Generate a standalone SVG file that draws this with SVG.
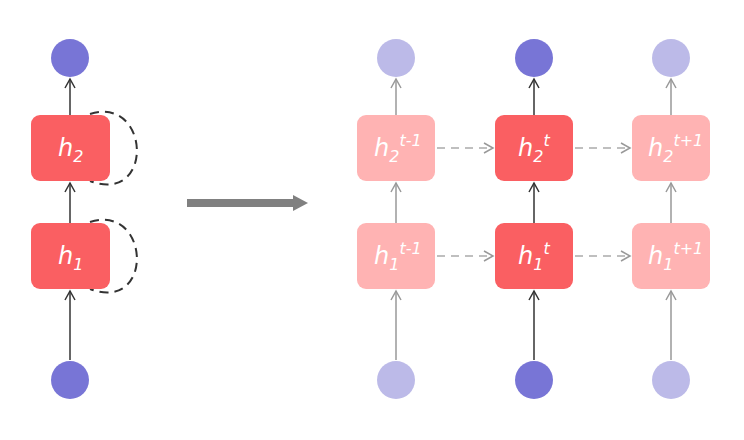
<svg xmlns="http://www.w3.org/2000/svg" width="744" height="440" viewBox="0 0 744 440">
<defs>
<style>
.dk{fill:#fa5f62}.lt{fill:#ffb3b3}
.cd{fill:#7875d6}.cl{fill:#bcbae8}
.t{font-family:"DejaVu Sans",sans-serif;font-style:italic;fill:#fff;font-size:24px}
.s{font-size:16px}
.ln{stroke:#333;stroke-width:1.5;fill:none}
.lg{stroke:#999;stroke-width:1.5;fill:none}
.dl{stroke:#333;stroke-width:2;fill:none;stroke-dasharray:9 6}
.dg{stroke:#aaa;stroke-width:1.5;fill:none;stroke-dasharray:8 6}
</style>
<marker id="a" markerWidth="12" markerHeight="12" refX="10" refY="6" orient="auto" markerUnits="userSpaceOnUse"><path d="M1,1 L10,6 L1,11" fill="none" stroke="#333" stroke-width="1.5"/></marker>
<marker id="ag" markerWidth="12" markerHeight="12" refX="10" refY="6" orient="auto" markerUnits="userSpaceOnUse"><path d="M1,1 L10,6 L1,11" fill="none" stroke="#999" stroke-width="1.5"/></marker>
</defs>
<rect width="744" height="440" fill="#fff"/>
<g id="connectors">
<line class="ln" x1="70" y1="360" x2="70" y2="291" marker-end="url(#a)"/>
<line class="ln" x1="70" y1="223" x2="70" y2="183" marker-end="url(#a)"/>
<line class="ln" x1="70" y1="115" x2="70" y2="79" marker-end="url(#a)"/>
<path class="dl" d="M90,114 C150,95 155,205 90,181"/>
<path class="dl" d="M90,222 C150,203 155,313 90,289"/>
<line x1="187" y1="203" x2="295" y2="203" stroke="#808080" stroke-width="8"/>
<path d="M293,195 L308,203 L293,211 Z" fill="#808080"/>
<line class="lg" x1="396" y1="360" x2="396" y2="291" marker-end="url(#ag)"/>
<line class="lg" x1="396" y1="223" x2="396" y2="183" marker-end="url(#ag)"/>
<line class="lg" x1="396" y1="115" x2="396" y2="79" marker-end="url(#ag)"/>
<line class="ln" x1="534" y1="360" x2="534" y2="291" marker-end="url(#a)"/>
<line class="ln" x1="534" y1="223" x2="534" y2="183" marker-end="url(#a)"/>
<line class="ln" x1="534" y1="115" x2="534" y2="79" marker-end="url(#a)"/>
<line class="lg" x1="671" y1="360" x2="671" y2="291" marker-end="url(#ag)"/>
<line class="lg" x1="671" y1="223" x2="671" y2="183" marker-end="url(#ag)"/>
<line class="lg" x1="671" y1="115" x2="671" y2="79" marker-end="url(#ag)"/>
<line class="dg" x1="437" y1="148" x2="493" y2="148" marker-end="url(#ag)"/>
<line class="dg" x1="437" y1="256" x2="493" y2="256" marker-end="url(#ag)"/>
<line class="dg" x1="575" y1="148" x2="630" y2="148" marker-end="url(#ag)"/>
<line class="dg" x1="575" y1="256" x2="630" y2="256" marker-end="url(#ag)"/>
</g>
<g id="y"><circle class="cd" cx="70" cy="58" r="19"/></g>
<g id="x"><circle class="cd" cx="70" cy="380" r="19"/></g>
<g id="h2"><rect class="dk" x="31" y="115" width="79" height="66" rx="9"/><text class="t" x="58" y="156">h<tspan class="s" dy="6">2</tspan></text></g>
<g id="h1"><rect class="dk" x="31" y="223" width="79" height="66" rx="9"/><text class="t" x="58" y="264">h<tspan class="s" dy="6">1</tspan></text></g>
<g id="yt0"><circle class="cl" cx="396" cy="58" r="19"/></g>
<g id="yt1"><circle class="cd" cx="534" cy="58" r="19"/></g>
<g id="yt2"><circle class="cl" cx="671" cy="58" r="19"/></g>
<g id="xt0"><circle class="cl" cx="396" cy="380" r="19"/></g>
<g id="xt1"><circle class="cd" cx="534" cy="380" r="19"/></g>
<g id="xt2"><circle class="cl" cx="671" cy="380" r="19"/></g>
<g id="h2a"><rect class="lt" x="357" y="115" width="78" height="66" rx="9"/><text class="t" x="374" y="156">h<tspan class="s" dy="6">2</tspan><tspan class="s" dy="-16">t-1</tspan></text></g>
<g id="h1a"><rect class="lt" x="357" y="223" width="78" height="66" rx="9"/><text class="t" x="374" y="264">h<tspan class="s" dy="6">1</tspan><tspan class="s" dy="-16">t-1</tspan></text></g>
<g id="h2b"><rect class="dk" x="495" y="115" width="78" height="66" rx="9"/><text class="t" x="518" y="156">h<tspan class="s" dy="6">2</tspan><tspan class="s" dy="-16">t</tspan></text></g>
<g id="h1b"><rect class="dk" x="495" y="223" width="78" height="66" rx="9"/><text class="t" x="518" y="264">h<tspan class="s" dy="6">1</tspan><tspan class="s" dy="-16">t</tspan></text></g>
<g id="h2c"><rect class="lt" x="632" y="115" width="78" height="66" rx="9"/><text class="t" x="648" y="156">h<tspan class="s" dy="6">2</tspan><tspan class="s" dy="-16">t+1</tspan></text></g>
<g id="h1c"><rect class="lt" x="632" y="223" width="78" height="66" rx="9"/><text class="t" x="648" y="264">h<tspan class="s" dy="6">1</tspan><tspan class="s" dy="-16">t+1</tspan></text></g>
</svg>
